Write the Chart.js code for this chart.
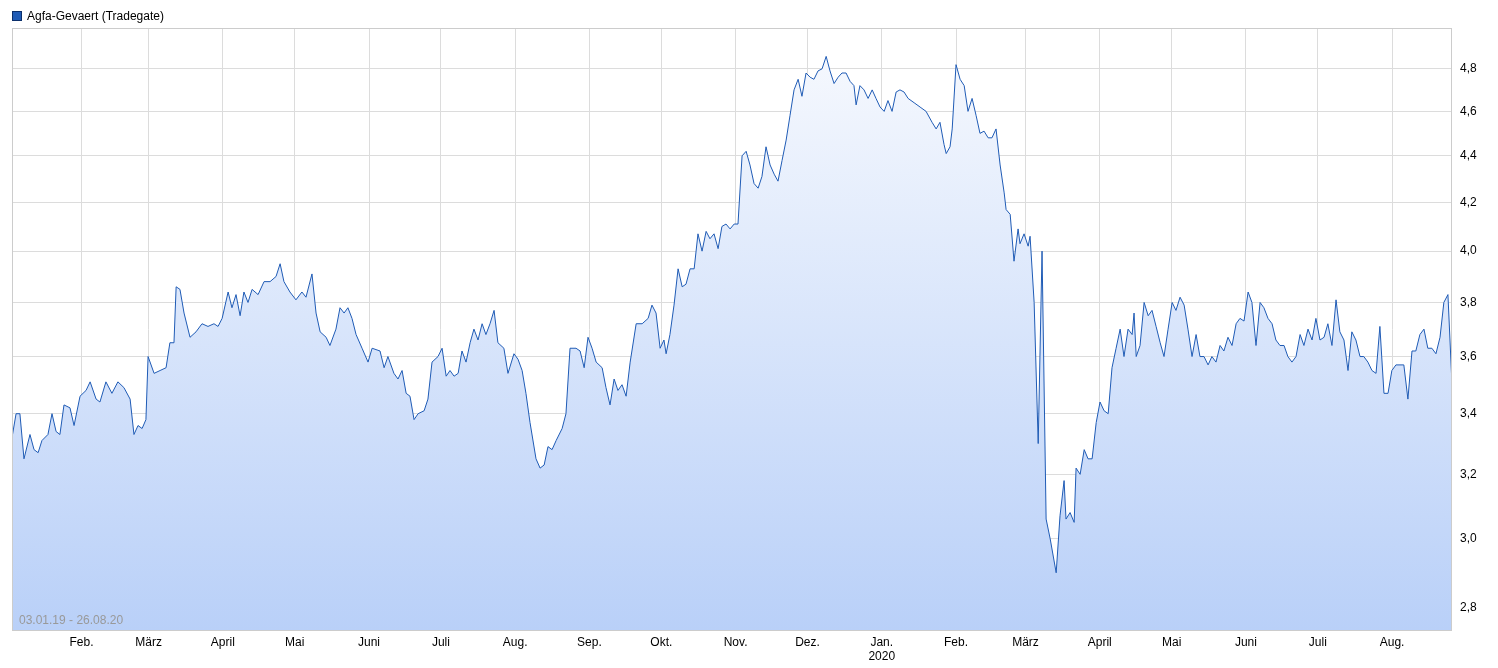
<!DOCTYPE html>
<html><head><meta charset="utf-8">
<script src="https://cdn.jsdelivr.net/npm/chart.js@4/dist/chart.umd.min.js"></script>
<style>
body{margin:0;background:#fff;font-family:"Liberation Sans",Arial,sans-serif}
#wrap{position:relative;width:1498px;height:668px}
#legend{position:absolute;left:12px;top:9px;font-size:12px;color:#000;display:flex;align-items:center}
#legend span{display:inline-block;width:8px;height:8px;background:#1f5bb5;border:1px solid #0b2f6b;margin-right:5px}
</style></head><body>
<div id="wrap"><canvas id="c" width="1498" height="668"></canvas>
<div id="legend"><span></span>Agfa-Gevaert (Tradegate)</div></div>
<script>
// days since 03.01.2019
const days=[0,1.7,3.3,5.0,7.5,9.2,10.9,12.5,15.0,16.7,18.4,20.0,21.7,24.2,25.9,28.4,30.9,32.6,35.1,36.7,39.2,41.7,44.2,46.7,49.3,50.9,52.6,54.3,55.9,56.8,59.3,61.8,64.3,65.9,67.6,68.5,70.1,71.8,74.3,76.8,79.3,81.8,84.3,86.0,87.7,90.2,91.8,93.5,95.2,96.8,98.5,100.2,102.7,105.2,107.7,110.2,111.9,113.5,116.0,118.5,121.0,122.7,125.2,126.9,128.6,131.1,132.7,135.2,136.9,138.6,140.2,141.9,143.6,146.1,148.6,150.3,153.6,155.3,156.9,159.4,161.1,162.8,164.5,166.1,167.8,169.5,172.0,173.6,175.3,177.8,179.5,181.2,182.8,184.5,186.2,187.8,189.5,191.2,192.8,194.5,196.2,197.8,199.5,201.2,202.8,205.3,207.0,209.5,211.2,212.9,214.5,216.2,218.7,220.4,222.1,223.7,225.4,227.1,229.6,231.2,232.9,235.4,237.1,238.8,240.4,242.1,243.8,246.3,247.9,249.6,251.3,252.9,254.6,256.3,258.0,260.5,263.0,265.5,267.1,268.8,270.5,272.1,273.0,274.6,276.3,278.0,279.7,281.3,283.0,284.7,286.3,288.0,289.7,291.3,293.0,294.7,296.3,298.0,299.7,301.4,303.0,304.7,306.4,308.0,309.7,311.4,313.0,314.7,316.4,318.1,319.7,321.4,323.1,324.7,326.4,328.1,329.7,331.4,333.1,334.7,336.4,338.1,339.8,341.4,343.1,344.8,346.4,348.1,349.8,351.4,352.3,353.9,355.6,357.3,359.0,360.6,362.3,364.0,365.6,367.3,369.0,370.6,372.3,374.0,376.5,379.0,381.5,384.0,385.7,387.3,389.0,389.9,391.5,392.4,394.0,395.7,397.4,399.0,400.7,402.4,404.0,405.7,407.4,409.0,410.7,412.4,414.1,414.9,416.6,418.2,419.9,420.7,422.4,424.1,424.9,426.6,428.3,429.9,431.6,433.3,435.8,437.4,439.1,439.9,441.6,443.3,444.1,445.8,447.5,449.1,450.8,452.5,454.1,455.8,457.5,459.1,460.8,462.5,464.1,465.8,467.5,468.3,469.2,470.8,472.5,474.2,475.8,477.5,479.2,480.8,482.5,484.2,485.8,487.5,489.2,490.8,492.5,494.2,495.8,497.5,499.2,500.8,502.5,504.2,505.8,507.5,509.2,510.9,512.5,514.2,515.9,517.5,519.2,520.9,522.5,524.2,525.9,527.5,529.2,530.9,532.5,534.2,535.9,537.6,539.2,540.9,542.6,544.2,545.9,547.6,549.2,550.9,552.6,554.2,555.9,557.6,559.2,560.9,562.6,564.2,565.9,567.6,569.3,570.9,572.6,574.3,575.9,577.6,579.3,580.9,582.6,584.3,585.9,587.6,589.3,590.9,592.6,594.3,596.0,597.6,599.3,601.0];
const prices=[3.32,3.40,3.40,3.25,3.33,3.28,3.27,3.31,3.33,3.40,3.34,3.33,3.43,3.42,3.36,3.46,3.48,3.51,3.45,3.44,3.51,3.47,3.51,3.49,3.45,3.33,3.36,3.35,3.38,3.60,3.54,3.55,3.56,3.65,3.65,3.86,3.85,3.76,3.67,3.69,3.72,3.71,3.72,3.71,3.74,3.84,3.78,3.83,3.75,3.84,3.80,3.85,3.83,3.88,3.88,3.90,3.95,3.88,3.84,3.81,3.84,3.82,3.91,3.76,3.69,3.67,3.64,3.70,3.78,3.76,3.78,3.74,3.68,3.63,3.58,3.63,3.62,3.56,3.60,3.54,3.52,3.55,3.47,3.46,3.38,3.40,3.41,3.45,3.58,3.60,3.63,3.53,3.55,3.53,3.54,3.62,3.58,3.65,3.70,3.66,3.72,3.68,3.72,3.77,3.65,3.63,3.54,3.61,3.59,3.55,3.47,3.37,3.25,3.22,3.23,3.29,3.28,3.31,3.35,3.40,3.63,3.63,3.62,3.56,3.67,3.63,3.58,3.56,3.49,3.43,3.52,3.48,3.50,3.46,3.58,3.72,3.72,3.74,3.79,3.76,3.63,3.66,3.61,3.68,3.79,3.93,3.86,3.87,3.93,3.93,4.07,4.00,4.08,4.05,4.07,4.01,4.10,4.11,4.09,4.11,4.11,4.40,4.42,4.36,4.28,4.26,4.31,4.44,4.36,4.32,4.29,4.38,4.47,4.58,4.70,4.75,4.67,4.78,4.76,4.75,4.79,4.80,4.86,4.79,4.73,4.76,4.78,4.78,4.74,4.72,4.63,4.72,4.70,4.66,4.70,4.66,4.62,4.60,4.65,4.60,4.69,4.70,4.69,4.66,4.64,4.62,4.60,4.55,4.52,4.55,4.45,4.41,4.44,4.52,4.82,4.75,4.72,4.60,4.66,4.58,4.50,4.51,4.48,4.48,4.52,4.36,4.24,4.17,4.15,3.96,4.09,4.03,4.07,4.02,4.06,3.80,3.30,4.00,3.06,3.00,2.90,3.07,3.18,3.06,3.08,3.05,3.22,3.20,3.28,3.25,3.25,3.37,3.44,3.41,3.40,3.56,3.63,3.70,3.60,3.70,3.68,3.76,3.60,3.64,3.80,3.75,3.77,3.71,3.65,3.60,3.70,3.80,3.77,3.82,3.79,3.70,3.60,3.68,3.60,3.60,3.57,3.60,3.58,3.64,3.62,3.67,3.64,3.72,3.74,3.73,3.84,3.80,3.64,3.80,3.78,3.74,3.72,3.66,3.64,3.64,3.60,3.58,3.60,3.68,3.64,3.70,3.66,3.74,3.66,3.67,3.72,3.64,3.81,3.69,3.66,3.55,3.69,3.66,3.60,3.60,3.58,3.55,3.54,3.71,3.47,3.47,3.55,3.57,3.57,3.57,3.45,3.62,3.62,3.68,3.70,3.63,3.63,3.61,3.67,3.80,3.83,3.50];
const monthDays=[29,57,88,118,149,179,210,241,271,302,332,363,394,423,454,484,515,545,576];
const monthLabels=["Feb.","März","April","Mai","Juni","Juli","Aug.","Sep.","Okt.","Nov.","Dez.",["Jan.","2020"],"Feb.","März","April","Mai","Juni","Juli","Aug."];
const yTicks=[2.8,3.0,3.2,3.4,3.6,3.8,4.0,4.2,4.4,4.6,4.8];
const yMin=2.736, yMax=5.0;
const rangeLabel="03.01.19 - 26.08.20";

const pts=days.map((d,i)=>({x:d,y:prices[i]}));
const rangePlugin={id:'rng',afterDatasetsDraw(ch){const {ctx,chartArea:a}=ch;ctx.save();ctx.font='12px "Liberation Sans"';ctx.fillStyle='#999';ctx.textBaseline='bottom';ctx.fillText(rangeLabel,a.left+7,a.bottom-4);ctx.strokeStyle='#ccc';ctx.lineWidth=1;ctx.strokeRect(a.left+0.5,a.top+0.5,a.width-1,a.height-1);ctx.restore();}};
new Chart(document.getElementById('c'),{
 type:'line',
 data:{datasets:[{data:pts,borderColor:'#1f5bb5',borderWidth:1,pointRadius:0,tension:0,fill:'start',
  backgroundColor(ctx){const a=ctx.chart.chartArea;if(!a)return '#dde8fb';const g=ctx.chart.ctx.createLinearGradient(0,a.top,0,a.bottom);g.addColorStop(0,'#f8fafe');g.addColorStop(1,'#b9d0f8');return g;}}]},
 options:{responsive:false,animation:false,
  layout:{padding:{left:12,top:28,right:0,bottom:0}},
  plugins:{legend:{display:false},tooltip:{enabled:false}},
  scales:{
   x:{type:'linear',min:0,max:601,
    afterBuildTicks(s){s.ticks=monthDays.map(v=>({value:v}));},
    afterFit(s){s.height=37;},
    grid:{color:'#dcdcdc',drawTicks:false},border:{display:false},
    ticks:{autoSkip:false,maxRotation:0,padding:4,color:'#000',font:{family:'Liberation Sans',size:12},
     callback(v){const i=monthDays.indexOf(v);return i>=0?monthLabels[i]:'';}}},
   y:{type:'logarithmic',position:'right',min:yMin,max:yMax,
    afterDataLimits(s){s.min=yMin;s.max=yMax;},
    afterBuildTicks(s){s.ticks=yTicks.map(v=>({value:v}));s.min=yMin;s.max=yMax;},
    afterFit(s){s.width=46;},
    grid:{color:'#dcdcdc',drawTicks:false},border:{display:false},
    ticks:{padding:8,color:'#000',font:{family:'Liberation Sans',size:12},
     callback(v){return Number(v).toFixed(1).replace('.',',');}}}
  }},
 plugins:[rangePlugin]
});
</script></body></html>
